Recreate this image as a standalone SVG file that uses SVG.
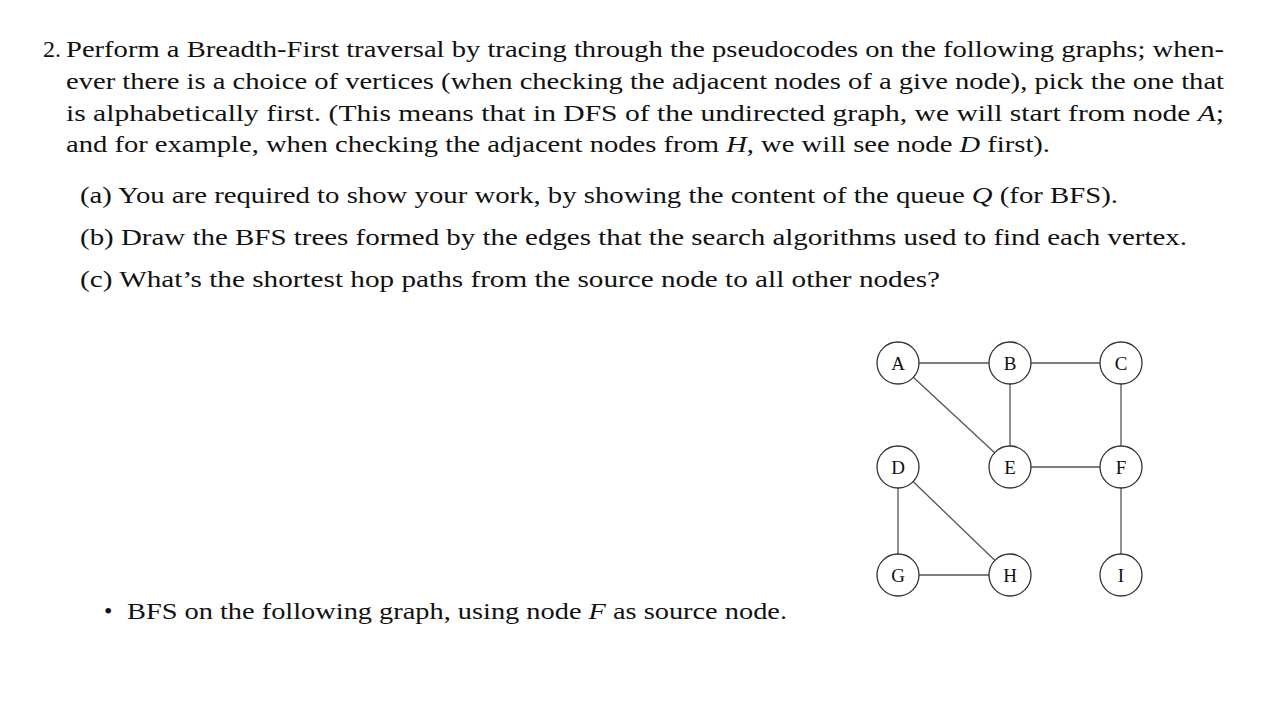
<svg xmlns="http://www.w3.org/2000/svg" width="1286" height="720" viewBox="0 0 1286 720">
<style>
text{font-family:"Liberation Serif","DejaVu Serif",serif;font-size:24px;fill:#111}
.i{font-style:italic}
.n circle{fill:#fff;stroke:#333;stroke-width:1.3}
.n text{font-size:19px;text-anchor:middle}
#edges line{stroke:#555;stroke-width:1.3}
</style>
<rect width="1286" height="720" fill="#fff"/>
<text x="43" y="57">2.</text>
<text x="66" y="57" textLength="1158" lengthAdjust="spacingAndGlyphs">Perform a Breadth-First traversal by tracing through the pseudocodes on the following graphs; when-</text>
<text x="66" y="89" textLength="1158" lengthAdjust="spacingAndGlyphs">ever there is a choice of vertices (when checking the adjacent nodes of a give node), pick the one that</text>
<text x="66" y="121" textLength="1158" lengthAdjust="spacingAndGlyphs">is alphabetically first. (This means that in DFS of the undirected graph, we will start from node <tspan class="i">A</tspan>;</text>
<text x="66" y="152" textLength="984" lengthAdjust="spacingAndGlyphs">and for example, when checking the adjacent nodes from <tspan class="i">H</tspan>, we will see node <tspan class="i">D</tspan> first).</text>
<text x="80" y="203" textLength="1038" lengthAdjust="spacingAndGlyphs">(a) You are required to show your work, by showing the content of the queue <tspan class="i">Q</tspan> (for BFS).</text>
<text x="80" y="245" textLength="1107" lengthAdjust="spacingAndGlyphs">(b) Draw the BFS trees formed by the edges that the search algorithms used to find each vertex.</text>
<text x="80" y="287" textLength="860" lengthAdjust="spacingAndGlyphs">(c) What’s the shortest hop paths from the source node to all other nodes?</text>
<text x="104" y="619">•</text>
<text x="127" y="619" textLength="660" lengthAdjust="spacingAndGlyphs">BFS on the following graph, using node <tspan class="i">F</tspan> as source node.</text>
<g id="edges">
<line x1="898" y1="363" x2="1010" y2="363"/>
<line x1="1010" y1="363" x2="1121" y2="363"/>
<line x1="898" y1="363" x2="1010" y2="467"/>
<line x1="1010" y1="363" x2="1010" y2="467"/>
<line x1="1121" y1="363" x2="1121" y2="467"/>
<line x1="1010" y1="467" x2="1121" y2="467"/>
<line x1="898" y1="467" x2="898" y2="575"/>
<line x1="898" y1="467" x2="1010" y2="575"/>
<line x1="898" y1="575" x2="1010" y2="575"/>
<line x1="1121" y1="467" x2="1121" y2="575"/>
</g>
<g id="A" class="n"><circle cx="898" cy="363" r="21"/><text x="898" y="370">A</text></g>
<g id="B" class="n"><circle cx="1010" cy="363" r="21"/><text x="1010" y="370">B</text></g>
<g id="C" class="n"><circle cx="1121" cy="363" r="21"/><text x="1121" y="370">C</text></g>
<g id="D" class="n"><circle cx="898" cy="467" r="21"/><text x="898" y="474">D</text></g>
<g id="E" class="n"><circle cx="1010" cy="467" r="21"/><text x="1010" y="474">E</text></g>
<g id="F" class="n"><circle cx="1121" cy="467" r="21"/><text x="1121" y="474">F</text></g>
<g id="G" class="n"><circle cx="898" cy="575" r="21"/><text x="898" y="582">G</text></g>
<g id="H" class="n"><circle cx="1010" cy="575" r="21"/><text x="1010" y="582">H</text></g>
<g id="I" class="n"><circle cx="1121" cy="575" r="21"/><text x="1121" y="582">I</text></g>
</svg>
